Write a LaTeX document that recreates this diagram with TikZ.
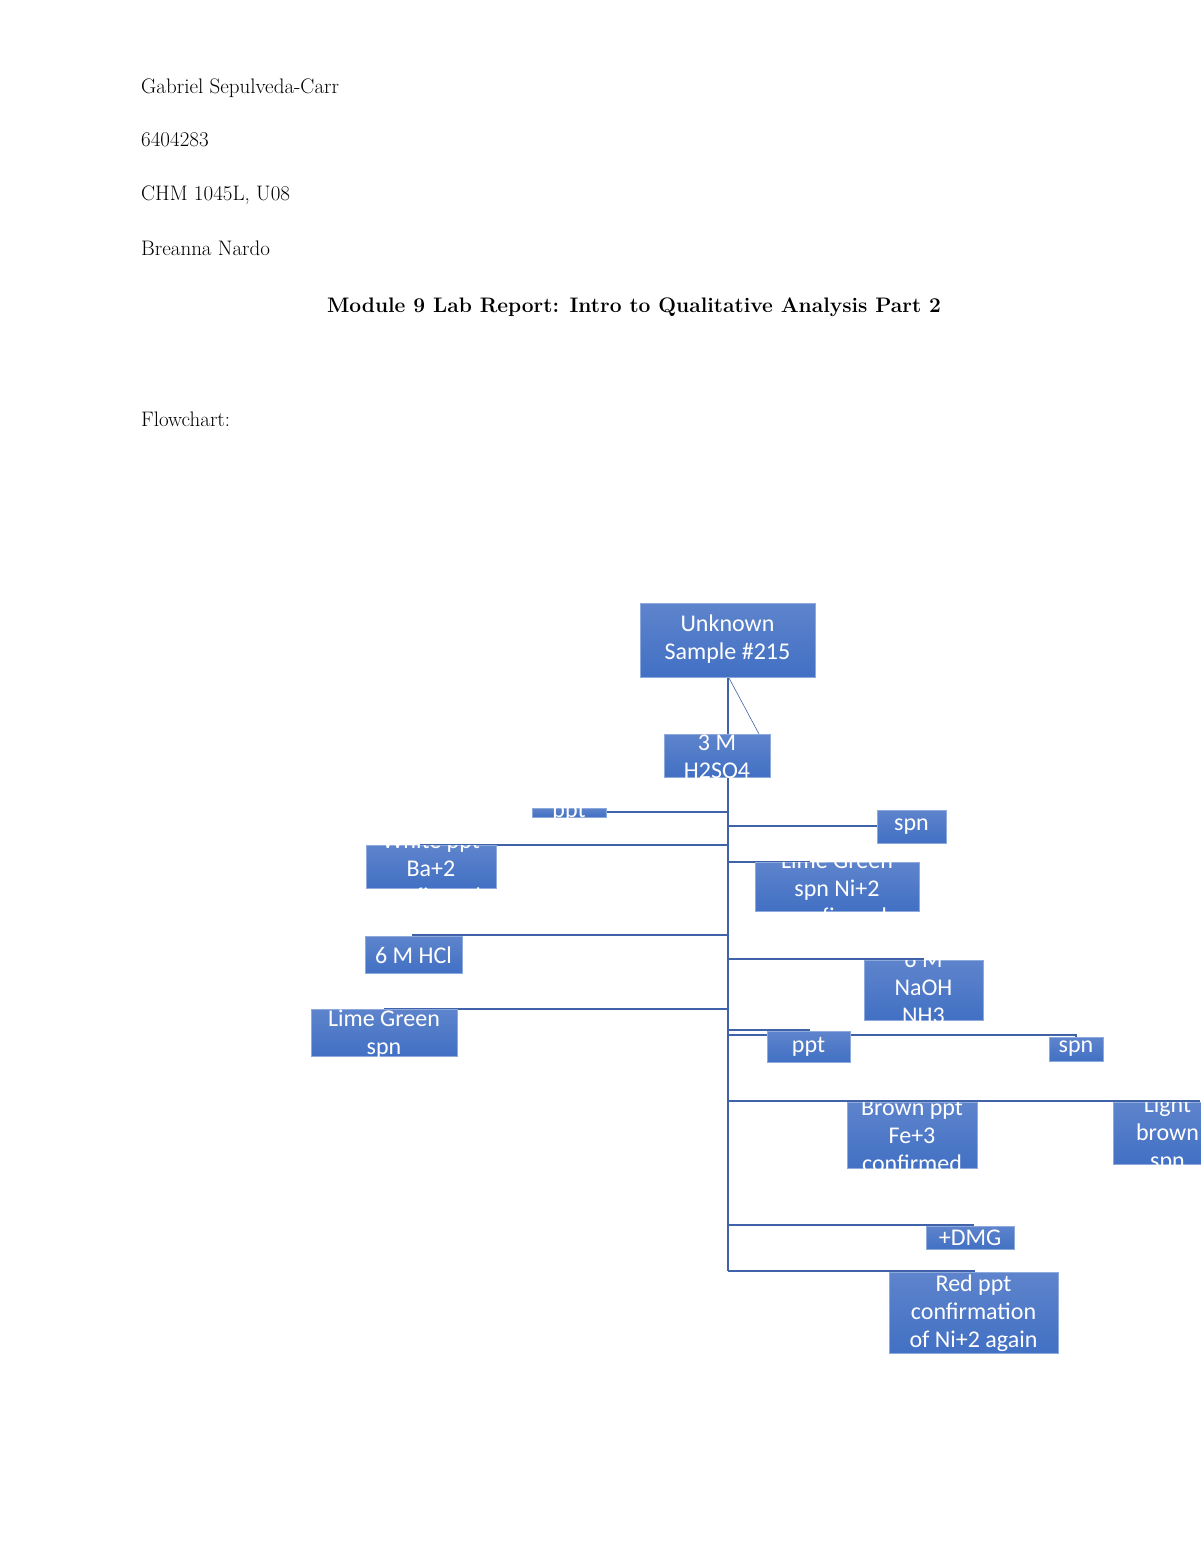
\documentclass[tikz,border=0pt]{standalone}
\usepackage{fontspec}
\newfontfamily\boxfont{Carlito}
\usetikzlibrary{fit}
\tikzset{
  bx/.style={draw=white!70!blue!60!gray, line width=0.6pt, top color=blue!30!white!0!blue!0!black!0!white!0!boxtop, bottom color=boxbot, inner sep=0pt},
  bt/.style={text=white, font=\boxfont\fontsize{24}{28}\selectfont, align=center, inner sep=0pt},
  ln/.style={draw=lineblue, line width=1.2pt},
  ht/.style={anchor=base west, inner sep=0pt, font=\fontsize{21}{25}\selectfont}
}
\definecolor{boxtop}{HTML}{5E84CC}
\definecolor{boxbot}{HTML}{4270C4}
\definecolor{lineblue}{HTML}{3F62A8}
\newcommand\cbox[7]{%
  \node[draw=boxtop!70!white, line width=0.6pt, top color=boxtop, bottom color=boxbot, inner sep=0pt, fit={(#2,#3)(#4,#5)}] (#1) {};
  \begin{scope}
    \clip (#2,#3) rectangle (#4,#5);
    \node[bt] at ({(#2+#4)/2},#7) {#6};
  \end{scope}}
\begin{document}
\begin{tikzpicture}[x=1pt,y=-1pt]
\useasboundingbox (0,0) rectangle (1200,1553);
\node[ht] (n1) at (141,93) {Gabriel Sepulveda-Carr};
\node[ht] (n2) at (141,146) {6404283};
\node[ht] (n3) at (141,200) {CHM 1045L, U08};
\node[ht] (n4) at (141,255) {Breanna Nardo};
\node[anchor=base, inner sep=0pt, font=\fontsize{21}{25}\selectfont\bfseries] (title) at (634,312) {Module 9 Lab Report: Intro to Qualitative Analysis Part 2};
\node[ht] (fc) at (141,426) {Flowchart:};

% connectors
\coordinate (t0) at (728,677);
\coordinate (t1) at (728,1271);
\draw[ln] (t0) -- (t1);
\draw[lineblue, line width=0.6pt] (729,678) -- (759,734);
\coordinate (a1) at (728,812); \coordinate (a2) at (606,812); \draw[ln] (a1) -- (a2);
\coordinate (b1) at (728,826); \coordinate (b2) at (877,826); \draw[ln] (b1) -- (b2);
\coordinate (c1) at (728,845); \coordinate (c2) at (420,845); \draw[ln] (c1) -- (c2);
\coordinate (d1) at (728,862); \coordinate (d2) at (810,862); \draw[ln] (d1) -- (d2);
\coordinate (e1) at (728,935); \coordinate (e2) at (412,935); \draw[ln] (e1) -- (e2);
\coordinate (f1) at (728,959); \coordinate (f2) at (924,959); \draw[ln] (f1) -- (f2);
\coordinate (g1) at (728,1009); \coordinate (g2) at (384,1009); \draw[ln] (g1) -- (g2);
\coordinate (h1) at (728,1030); \coordinate (h2) at (810,1030); \draw[ln] (h1) -- (h2);
\coordinate (i1) at (728,1035); \coordinate (i2) at (1076,1035); \coordinate (i3) at (1076,1037); \draw[ln] (i1) -- (i2) -- (i3);
\coordinate (j1) at (728,1101); \coordinate (j2) at (1200,1101); \draw[ln] (j1) -- (j2);
\coordinate (k1) at (728,1225); \coordinate (k2) at (974,1225); \draw[ln] (k1) -- (k2);
\coordinate (l1) at (728,1271); \coordinate (l2) at (975,1271); \draw[ln] (l1) -- (l2);

% boxes
\cbox{unk}{640}{603}{815}{677}{Unknown\\Sample \#215}{639}
\cbox{hso}{664}{734}{770}{777}{3 M\\H2SO4}{757}
\cbox{ppta}{532}{808}{606}{817}{ppt}{812}
\cbox{spna}{877}{810}{946}{843}{spn}{827}
\cbox{white}{366}{845}{496}{888}{White ppt\\Ba+2\\confirmed}{868}
\cbox{lime}{755}{862}{919}{911}{Lime Green\\spn Ni+2\\confirmed}{888}
\cbox{hcl}{365}{936}{462}{973}{6 M HCl}{955}
\cbox{naoh}{864}{960}{983}{1020}{6 M\\NaOH\\NH3}{987}
\cbox{limeb}{311}{1009}{457}{1056}{Lime Green\\spn}{1034}
\cbox{pptb}{767}{1031}{850}{1062}{ppt}{1047}
\cbox{spnb}{1049}{1037}{1103}{1061}{spn}{1049}
\cbox{brown}{847}{1102}{977}{1168}{Brown ppt\\Fe+3\\confirmed}{1136}
\cbox{light}{1113}{1102}{1222}{1164}{Light\\brown\\spn}{1134}
\cbox{dmg}{926}{1226}{1014}{1249}{+DMG}{1238}
\cbox{red}{889}{1272}{1058}{1353}{Red ppt\\confirmation\\of Ni+2 again}{1313}
\end{tikzpicture}
\end{document}
